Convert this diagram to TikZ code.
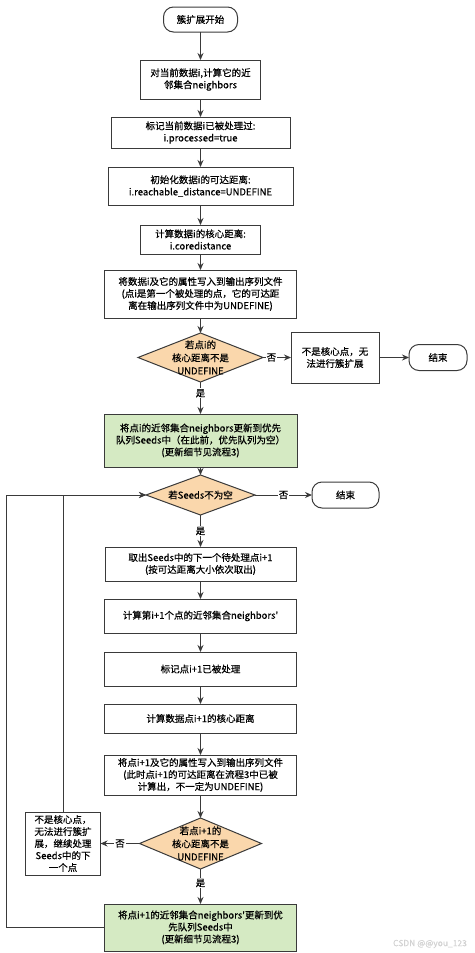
\documentclass[tikz,border=0pt]{standalone}
\usepackage{fontspec}
\setmainfont{Noto Sans CJK SC}[FakeBold=0.5]
\usepackage{xcolor}
\usetikzlibrary{positioning}
\usetikzlibrary{arrows.meta}
\usetikzlibrary{shapes.geometric}
\definecolor{decisionfill}{HTML}{FAD7AC}
\definecolor{updatefill}{HTML}{D5EAC3}
\definecolor{linegray}{HTML}{3A3A3A}
\tikzset{
  every node/.style={font=\fontsize{9.5pt}{12pt}\selectfont},
  process/.style={draw=linegray, line width=1pt, inner sep=0pt, outer sep=0pt, align=center},
  terminal/.style={process, rounded corners=10pt},
  update/.style={process, fill=updatefill},
  decision/.style={diamond, draw=linegray, line width=1pt, fill=decisionfill, inner sep=0pt, outer sep=0pt},
  flow/.style={-{Stealth[length=7pt,width=6pt]}, draw=linegray, line width=1pt},
  answer/.style={fill=white, inner sep=1pt}
}

\begin{document}
\begin{tikzpicture}
\useasboundingbox (0,0) rectangle (474pt,-953pt);

% start of the cluster expansion
\node[terminal, minimum width=74pt, minimum height=25pt] (start) at (200.5pt,-19.5pt) {簇扩展开始};
\node[process,
    minimum width=120pt,
    minimum height=39pt,
    below=28pt of start
] (neigh) {对当前数据i,计算它的近\\邻集合neighbors};
\node[process,
    minimum width=179pt,
    minimum height=31pt,
    below=18pt of neigh
] (mark) {标记当前数据i已被处理过:\\i.processed=true};
\node[process,
    minimum width=185pt,
    minimum height=38pt,
    below=19pt of mark
] (reach) {初始化数据i的可达距离:\\i.reachable\_distance=UNDEFINE};
\node[process,
    minimum width=120pt,
    minimum height=29pt,
    below=20pt of reach
] (core) {计算数据i的核心距离:\\i.coredistance};
\node[process,
    minimum width=192pt,
    minimum height=48pt,
    below=16pt of core
] (write) {将数据i及它的属性写入到输出序列文件\\(点i是第一个被处理的点，它的可达距\\离在输出序列文件中为UNDEFINE)};

% is point i a core point
\node[decision,
    minimum width=125pt,
    minimum height=49pt,
    below=15pt of write,
    label={[align=center, font=\fontsize{9.5pt}{13pt}\selectfont]center:若点i的\\核心距离不是\\UNDEFINE}
] (iscore) {};
\node[process,
    minimum width=88pt,
    minimum height=51pt,
    right=28pt of iscore
] (notcore) {不是核心点，无\\法进行簇扩展};
\node[terminal,
    minimum width=58pt,
    minimum height=26pt,
    right=30pt of notcore
] (stopA) {结束};
\node[update,
    minimum width=193pt,
    minimum height=53pt,
    below=32pt of iscore
] (update) {将点i的近邻集合neighbors更新到优先\\队列Seeds中（在此前，优先队列为空）\\(更新细节见流程3)};

% loop over Seeds
\node[decision,
    minimum width=109pt,
    minimum height=40pt,
    below=8pt of update,
    label={center:若Seeds不为空}
] (seeds) {};
\node[terminal,
    minimum width=67pt,
    minimum height=26pt,
    right=57pt of seeds
] (stopB) {结束};
\node[process,
    minimum width=191pt,
    minimum height=34pt,
    below=32pt of seeds
] (next) {取出Seeds中的下一个待处理点i+1\\(按可达距离大小依次取出)};
\node[process,
    minimum width=192pt,
    minimum height=34pt,
    below=18pt of next
] (neighB) {计算第i+1个点的近邻集合neighbors\textquotesingle};
\node[process,
    minimum width=192pt,
    minimum height=34pt,
    below=19pt of neighB
] (markB) {标记点i+1已被处理};
\node[process,
    minimum width=192pt,
    minimum height=29pt,
    below=18pt of markB
] (coreB) {计算数据点i+1的核心距离};
\node[process,
    minimum width=192pt,
    minimum height=40pt,
    below=22pt of coreB
] (writeB) {将点i+1及它的属性写入到输出序列文件\\(此时点i+1的可达距离在流程3中已被\\计算出，不一定为UNDEFINE)};
\node[decision,
    minimum width=122pt,
    minimum height=51pt,
    below=23pt of writeB,
    label={[align=center, font=\fontsize{9.5pt}{13pt}\selectfont]center:若点i+1的\\核心距离不是\\UNDEFINE}
] (iscoreB) {};
\node[process,
    minimum width=75pt,
    minimum height=63pt,
    left=39pt of iscoreB
] (skip) {不是核心点，\\无法进行簇扩\\展，继续处理\\Seeds中的下\\一个点};
\node[update,
    minimum width=192pt,
    minimum height=47pt,
    below=35pt of iscoreB
] (updateB) {将点i+1的近邻集合neighbors\textquotesingle 更新到优\\先队列Seeds中\\(更新细节见流程3)};

\node[text=gray!35, font=\fontsize{8.5pt}{10pt}\selectfont] (watermark) at (430pt,-944pt) {CSDN @@you\_123};

% connectors
\draw[flow] (start) -- (neigh);
\draw[flow] (neigh) -- (mark);
\draw[flow] (mark) -- (reach);
\draw[flow] (reach) -- (core);
\draw[flow] (core) -- (write);
\draw[flow] (write) -- (iscore);
\draw[flow] (iscore) -- (notcore) node[pos=0.3, answer]{否};
\draw[flow] (notcore) -- (stopA);
\draw[flow] (iscore) -- (update) node[pos=0.35, answer]{是};
\draw[flow] (update) -- (seeds);
\draw[flow] (seeds) -- (stopB) node[midway, answer]{否};
\draw[flow] (seeds) -- (next) node[midway, answer]{是};
\draw[flow] (next) -- (neighB);
\draw[flow] (neighB) -- (markB);
\draw[flow] (markB) -- (coreB);
\draw[flow] (coreB) -- (writeB);
\draw[flow] (writeB) -- (iscoreB);
\draw[flow] (iscoreB) -- (skip) node[midway, answer]{否};
\draw[flow] (iscoreB) -- (updateB) node[pos=0.4, answer]{是};
\draw[flow] (skip.north) |- (seeds.west);
\draw[flow] (updateB.west) -- ++(-98pt,0) |- (seeds.west);
\end{tikzpicture}
\end{document}
